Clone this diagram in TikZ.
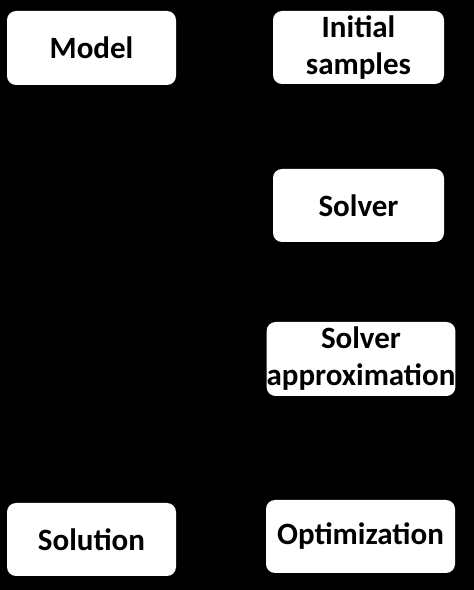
\documentclass[tikz,border=0pt]{standalone}
\usepackage{fontspec}
\setmainfont{Carlito}
\begin{document}
\begin{tikzpicture}[x=1pt,y=1pt,
  box/.style={fill=white, draw=none, rounded corners=9pt, align=center, inner sep=0pt,
    font=\bfseries\fontsize{31}{37}\selectfont, text=black}]
\fill[black] (0,0) rectangle (474,590);
\useasboundingbox (0,0) rectangle (474,590);
\node[box, minimum width=169pt, minimum height=74pt] (model) at (91.5,542) {Model};
\node[box, minimum width=171pt, minimum height=73pt] (init) at (358.5,542.5) {Initial\\samples};
\node[box, minimum width=171pt, minimum height=73pt] (solver) at (358.5,384.5) {Solver};
\node[box, minimum width=188pt, minimum height=74pt] (approx) at (361,231) {Solver\\approximation};
\node[box, minimum width=169pt, minimum height=73pt] (solution) at (91.5,50.5) {Solution};
\node[box, minimum width=189pt, minimum height=73pt] (opt) at (360.5,53.5) {Optimization};
\end{tikzpicture}
\end{document}
